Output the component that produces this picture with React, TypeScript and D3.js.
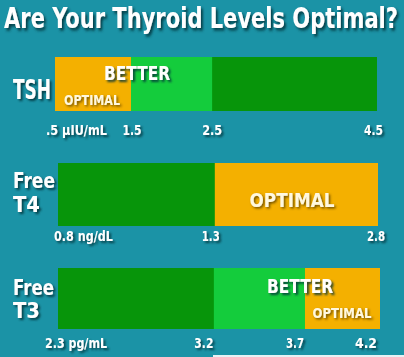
import React from "react";
import * as d3 from "d3";

// ---------- data ----------
const title = "Are Your Thyroid Levels Optimal?";
const tests = ["TSH", "Free T4", "Free T3"];
const testLines = [["TSH"], ["Free", "T4"], ["Free", "T3"]];
const tickValues = [
  [0.5, 1.5, 2.5, 4.5],
  [0.8, 1.3, 2.8],
  [2.3, 3.2, 3.7, 4.2],
];
const tickLabels = [
  [".5 μIU/mL", "1.5", "2.5", "4.5"],
  ["0.8 ng/dL", "1.3", "2.8"],
  ["2.3 pg/mL", "3.2", "3.7", "4.2"],
];
// zones [from, to] or null
const betterZones: ([number, number] | null)[] = [[0.5, 2.5], null, [3.2, 4.2]];
const optimalZones: ([number, number] | null)[] = [[0.5, 1.5], [1.3, 2.8], [3.7, 4.2]];
// where the light-green ("better but not optimal") band starts
const betterFillFrom = [1.5, null, 3.2];

// ---------- layout (not data) ----------
const W = 404, H = 357;
const C = {
  bg: "#1b93a6",
  orange: "#f4b000",
  light: "#14cc3c",
  dark: "#07950a",
  white: "#ffffff",
};
const FONT = "'DejaVu Sans Condensed', 'Liberation Sans Narrow', 'DejaVu Sans', sans-serif";
const rowLayout = [
  { x0: 55, x1: 377, y: 57, h: 54, stops: [0, 0.236, 0.488, 1], tickY: 135, labelY: [99], labelW: [38], labelFs: 27,
    tickDx: [-9, 1, 0, 0], tickW: [61, 19, 20, 19], lastDx: 6,
    better: { x: 137, y: 80, w: 66, fs: 20 }, optimal: { x: 92, y: 105, w: 56, fs: 14 } },
  { x0: 58, x1: 378, y: 163, h: 63, stops: [0, 0.49, 1], tickY: 241, labelY: [188, 212], labelW: [42, 27], labelFs: 21,
    tickDx: [-4, -4, 0], tickW: [59, 18, 18], lastDx: 7,
    better: null, optimal: { x: 292, y: 207, w: 85, fs: 20 } },
  { x0: 58, x1: 380, y: 268, h: 61, stops: [0, 0.484, 0.767, 1], tickY: 348, labelY: [295, 318], labelW: [41, 27], labelFs: 21,
    tickDx: [-13, -10, -10, 0], tickW: [62, 19, 18, 22], lastDx: -3,
    better: { x: 300, y: 293, w: 66, fs: 20 }, optimal: { x: 342, y: 318, w: 59, fs: 14 } },
];

export default function App() {
  return (
    <div style={{ position: "fixed", left: 0, top: 0 }}>
      <svg width={W} height={H} style={{ display: "block" }}>
        <defs>
          <filter id="sh" x="-20%" y="-30%" width="150%" height="180%">
            <feDropShadow dx="2" dy="2" stdDeviation="1.3" floodColor="#06303a" floodOpacity="0.85" />
          </filter>
          <filter id="sh2" x="-20%" y="-30%" width="150%" height="180%">
            <feDropShadow dx="1.5" dy="1.5" stdDeviation="1" floodColor="#3a2a00" floodOpacity="0.7" />
          </filter>
        </defs>
        <rect width={W} height={H} fill={C.bg} />
        <rect x={213} y={355} width={W - 213} height={2} fill="#e6f2f4" />
        <g transform="translate(4,28) scale(1,1.27)">
          <text x={0} y={0} fontFamily={FONT} fontWeight="bold" fontSize={23} fill={C.white}
            textLength={394} lengthAdjust="spacingAndGlyphs" filter="url(#sh)">{title}</text>
        </g>
        {tests.map((t, i) => {
          const L = rowLayout[i];
          const ticks = tickValues[i];
          const x = d3.scaleLinear()
            .domain(ticks)
            .range(L.stops.map((s) => L.x0 + s * (L.x1 - L.x0)));
          const dom = [ticks[0], ticks[ticks.length - 1]];
          const bz = betterZones[i];
          const oz = optimalZones[i];
          const bf = betterFillFrom[i];
          return (
            <g key={t}>
              <rect x={x(dom[0])} y={L.y} width={x(dom[1]) - x(dom[0])} height={L.h} fill={C.dark} />
              {bz && bf != null && (
                <rect x={x(bf)} y={L.y} width={x(bz[1]) - x(bf)} height={L.h} fill={C.light} />
              )}
              {oz && (
                <rect x={x(oz[0])} y={L.y} width={x(oz[1]) - x(oz[0])} height={L.h} fill={C.orange} />
              )}
              {testLines[i].map((ln, k) => (
                <text key={k} x={13} y={L.labelY[k]} fontFamily={FONT} fontWeight="bold"
                  fontSize={L.labelFs} fill={C.white}
                  textLength={L.labelW[k]} lengthAdjust="spacingAndGlyphs" filter="url(#sh)">{ln}</text>
              ))}
              {L.better && (
                <text x={L.better.x} y={L.better.y} textAnchor="middle" fontFamily={FONT} fontWeight="bold"
                  fontSize={L.better.fs} fill={C.white} textLength={L.better.w} lengthAdjust="spacingAndGlyphs"
                  filter="url(#sh)">BETTER</text>
              )}
              <text x={L.optimal.x} y={L.optimal.y} textAnchor="middle" fontFamily={FONT} fontWeight="bold"
                fontSize={L.optimal.fs} fill="#fff8e0" textLength={L.optimal.w} lengthAdjust="spacingAndGlyphs"
                filter="url(#sh2)">OPTIMAL</text>
              {ticks.map((v, k) => {
                const first = k === 0;
                const last = k === ticks.length - 1;
                const anchor = first ? "start" : last ? "end" : "middle";
                const tx = x(v) + (last ? L.lastDx : L.tickDx[k]);
                return (
                  <text key={k} x={tx} y={L.tickY} textAnchor={anchor} fontFamily={FONT} fontWeight="bold"
                    fontSize={14} fill={C.white} textLength={L.tickW[k]} lengthAdjust="spacingAndGlyphs"
                    filter="url(#sh)">{tickLabels[i][k]}</text>
                );
              })}
            </g>
          );
        })}
      </svg>
    </div>
  );
}
